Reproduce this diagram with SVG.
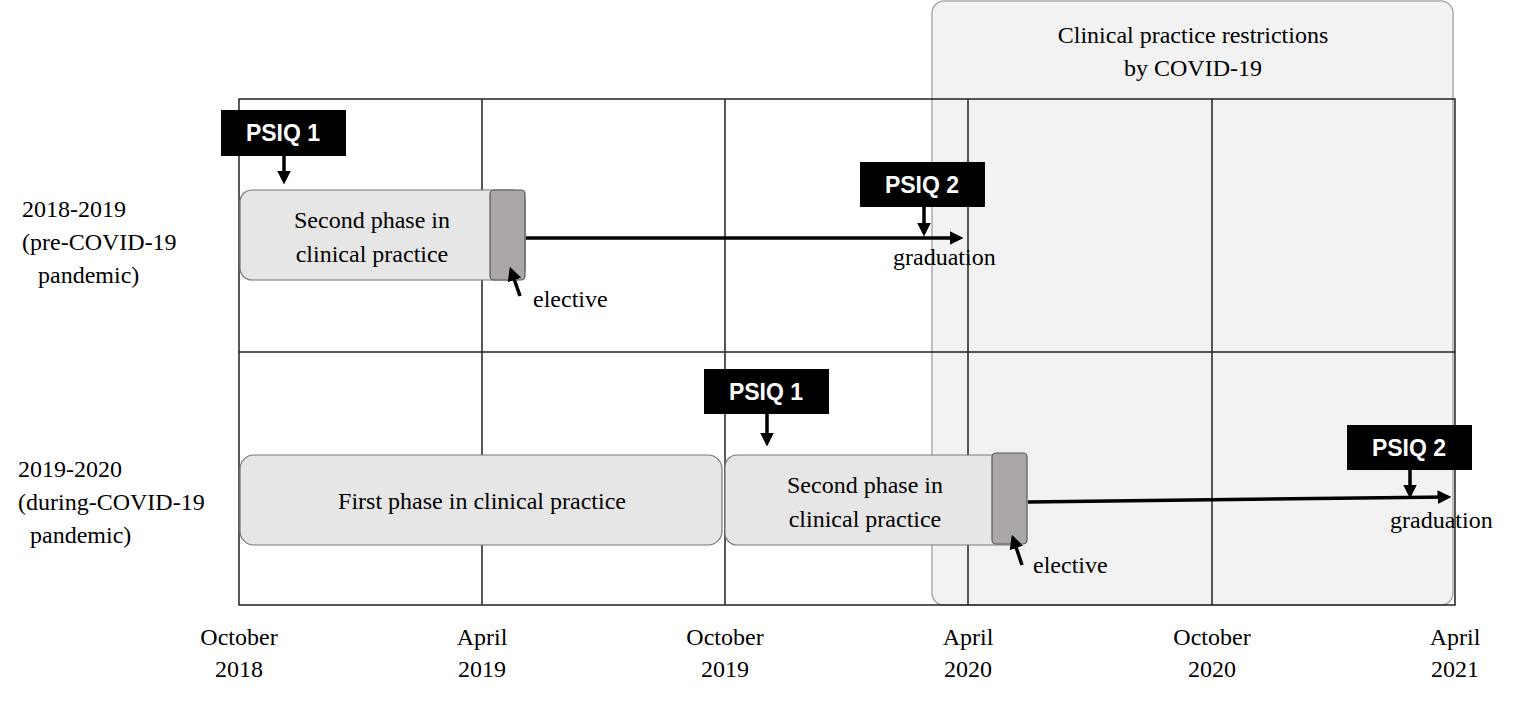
<svg xmlns="http://www.w3.org/2000/svg" width="1536" height="703" viewBox="0 0 1536 703">
<defs>
<style>
.t{font-family:"Liberation Serif",serif;font-size:24px;fill:#000}
.c{text-anchor:middle}
.p{font-family:"Liberation Sans",Arial,sans-serif;font-size:23px;font-weight:bold;fill:#fff;text-anchor:middle}
.g{stroke:#222;stroke-width:1.5;fill:none}
.ph{fill:#e6e6e6;stroke:#777;stroke-width:1.2}
.el{fill:#aba7a7;stroke:#555;stroke-width:1.2}
.a{stroke:#000;stroke-width:3.5;fill:none;marker-end:url(#ah)}
</style>
<marker id="ah" markerWidth="4" markerHeight="4" refX="3" refY="2" orient="auto"><path d="M0,0L4,2L0,4z" fill="#000"/></marker>
</defs>
<rect width="1536" height="703" fill="#fff"/>
<g id="covid">
<rect x="932" y="1" width="521" height="604" rx="12" fill="#f2f2f2" stroke="#aaa" stroke-width="1.5"/>
<text class="t c" x="1193" y="43">Clinical practice restrictions</text>
<text class="t c" x="1193" y="76">by COVID-19</text>
</g>
<g id="grid">
<rect x="239" y="99" width="1216" height="506" class="g"/>
<path class="g" d="M482,99V605M725,99V605M968,99V605M1212,99V605M239,352H1455"/>
</g>
<g id="labels">
<text class="t" x="22" y="217">2018-2019</text>
<text class="t" x="22" y="250">(pre-COVID-19</text>
<text class="t" x="38" y="283">pandemic)</text>
<text class="t" x="18" y="477">2019-2020</text>
<text class="t" x="18" y="510">(during-COVID-19</text>
<text class="t" x="30" y="543">pandemic)</text>
<text class="t c" x="239" y="645">October</text><text class="t c" x="239" y="677">2018</text>
<text class="t c" x="482" y="645">April</text><text class="t c" x="482" y="677">2019</text>
<text class="t c" x="725" y="645">October</text><text class="t c" x="725" y="677">2019</text>
<text class="t c" x="968" y="645">April</text><text class="t c" x="968" y="677">2020</text>
<text class="t c" x="1212" y="645">October</text><text class="t c" x="1212" y="677">2020</text>
<text class="t c" x="1455" y="645">April</text><text class="t c" x="1455" y="677">2021</text>
</g>
<g id="row1-phase2">
<rect x="240" y="190" width="285" height="90" rx="12" class="ph"/>
<rect x="490" y="190" width="35" height="90" rx="4" class="el"/>
<text class="t c" x="372" y="228">Second phase in</text>
<text class="t c" x="372" y="262">clinical practice</text>
</g>
<g id="row1-psiq1"><rect x="221" y="110" width="125" height="46" fill="#000"/><text class="p" x="283" y="141">PSIQ 1</text></g>
<g id="row1-psiq2"><rect x="860" y="162" width="125" height="45" fill="#000"/><text class="p" x="922" y="193">PSIQ 2</text></g>
<g id="row2-phase1">
<rect x="240" y="455" width="482" height="90" rx="14" class="ph"/>
<text class="t c" x="482" y="509">First phase in clinical practice</text>
</g>
<g id="row2-phase2">
<rect x="725" y="455" width="300" height="90" rx="12" class="ph"/>
<rect x="992" y="453" width="35" height="91" rx="4" class="el"/>
<text class="t c" x="865" y="493">Second phase in</text>
<text class="t c" x="865" y="527">clinical practice</text>
</g>
<g id="row2-psiq1"><rect x="704" y="369" width="125" height="45" fill="#000"/><text class="p" x="766" y="400">PSIQ 1</text></g>
<g id="row2-psiq2"><rect x="1347" y="425" width="125" height="45" fill="#000"/><text class="p" x="1409" y="456">PSIQ 2</text></g>
<g id="texts">
<text class="t" x="893" y="265">graduation</text>
<text class="t" x="533" y="307">elective</text>
<text class="t" x="1390" y="528">graduation</text>
<text class="t" x="1033" y="573">elective</text>
</g>
<g id="connectors">
<path class="a" d="M526,238H960"/>
<path class="a" d="M284,156V181"/>
<path class="a" d="M924,207V233"/>
<path class="a" d="M520,296L511,270"/>
<path class="a" d="M1028,502L1448,497"/>
<path class="a" d="M767,414V443"/>
<path class="a" d="M1410,470V495"/>
<path class="a" d="M1022,565L1013,538"/>
</g>
</svg>
